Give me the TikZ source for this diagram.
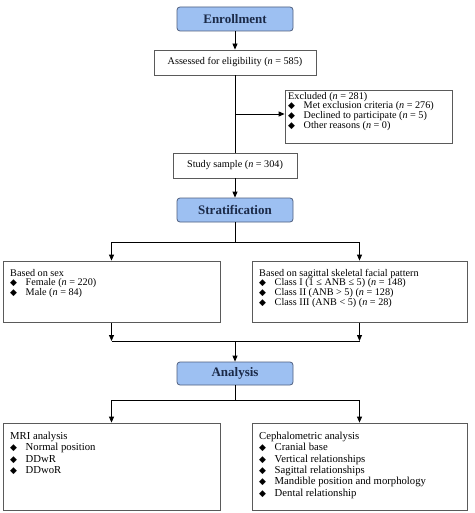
\documentclass[tikz,border=0pt]{standalone}
\usepackage{fontspec}
\setmainfont{Liberation Serif}
\newfontfamily\symfont{DejaVu Sans}
\usetikzlibrary{arrows.meta,shadows}
\definecolor{hdrfill}{HTML}{9DC0F2}
\definecolor{hdrdraw}{HTML}{4F5F7F}
\definecolor{hdrtext}{HTML}{1B2A48}
\definecolor{boxdraw}{HTML}{5A5A5A}
\newcommand{\bul}{\makebox[15.5pt][l]{\hspace{0pt}{\symfont\fontsize{9}{9}\selectfont ◆}}}
\newcommand{\nn}{\textit{n}}
\begin{document}
\begin{tikzpicture}[x=1pt,y=-1pt,
 hdr/.style={draw=hdrdraw, line width=0.8pt, fill=hdrfill, rounded corners=3pt, minimum width=116pt, minimum height=24pt, inner sep=0pt, font=\fontsize{13}{13}\selectfont\bfseries, text=hdrtext},
 plain/.style={draw=boxdraw, line width=0.8pt, fill=white, inner sep=0pt, font=\fontsize{10.2}{10.2}\selectfont, drop shadow={shadow xshift=0.7pt, shadow yshift=-0.7pt, fill=black!50, opacity=1}},
 small/.style={inner sep=0pt, anchor=north west, align=left, font=\fontsize{10.2}{9.6}\selectfont},
 big/.style={inner sep=0pt, anchor=north west, align=left, font=\fontsize{10.7}{11.3}\selectfont},
 arr/.style={line width=0.8pt, -{Triangle[length=6pt,width=5pt]}},
 ln/.style={line width=0.8pt}]
\useasboundingbox[fill=white] (0,0) rectangle (474,513);

\node[hdr] (enroll) at (235,19) {Enrollment};
\node[plain, minimum width=162pt, minimum height=25pt] (assess) at (235,62.5) {Assessed for eligibility (\nn{} = 585)};
\node[plain, minimum width=167pt, minimum height=53pt] (excl) at (368.5,116.5) {};
\node[small] (excltext) at (288,92) {Excluded (\nn{} = 281)\\\bul Met exclusion criteria (\nn{} = 276)\\\bul Declined to participate (\nn{} = 5)\\\bul Other reasons (\nn{} = 0)};
\node[plain, minimum width=124pt, minimum height=25pt] (study) at (235,165.5) {Study sample (\nn{} = 304)};
\node[hdr] (strat) at (235,210) {Stratification};

\node[plain, minimum width=217pt, minimum height=61.5pt] (sex) at (111.5,291.75) {};
\node[small] (sextext) at (10,269) {Based on sex\\\bul Female (\nn{} = 220)\\\bul Male (\nn{} = 84)};
\node[plain, minimum width=215pt, minimum height=61.5pt] (pat) at (359.5,291.75) {};
\node[small] (pattext) at (259,269) {Based on sagittal skeletal facial pattern\\\bul Class I (1 ≤ ANB ≤ 5) (\nn{} = 148)\\\bul Class II (ANB > 5) (\nn{} = 128)\\\bul Class III (ANB < 5) (\nn{} = 28)};

\node[hdr, minimum height=23pt] (anal) at (235,373.5) {Analysis};

\node[plain, minimum width=217pt, minimum height=87pt] (mri) at (111.5,466.5) {};
\node[big] (mritext) at (10,432) {MRI analysis\\\bul Normal position\\\bul DDwR\\\bul DDwoR};
\node[plain, minimum width=215pt, minimum height=87pt] (ceph) at (359.5,466.5) {};
\node[big] (cephtext) at (259,432) {Cephalometric analysis\\\bul Cranial base\\\bul Vertical relationships\\\bul Sagittal relationships\\\bul Mandible position and morphology\\\bul Dental relationship};

\draw[arr] (enroll) -- (assess);
\draw[ln] (assess) -- (study);
\coordinate (ex) at (235,114);
\draw[arr] (ex) -- (excl.west |- ex);
\draw[arr] (study) -- (strat);

\coordinate (s1) at (235,242);
\draw[ln] (strat) -- (s1);
\draw[arr] (s1) -| (sex);
\draw[arr] (s1) -| (pat);

\coordinate (m1) at (235,341);
\draw[ln] (sex.south |- m1) -- (pat.south |- m1);
\draw[arr] (sex.south) -- (sex.south |- m1);
\draw[arr] (pat.south) -- (pat.south |- m1);
\draw[arr] (m1) -- (anal);

\coordinate (s2) at (235,400);
\draw[ln] (anal) -- (s2);
\draw[arr] (s2) -| (mri);
\draw[arr] (s2) -| (ceph);
\end{tikzpicture}
\end{document}
